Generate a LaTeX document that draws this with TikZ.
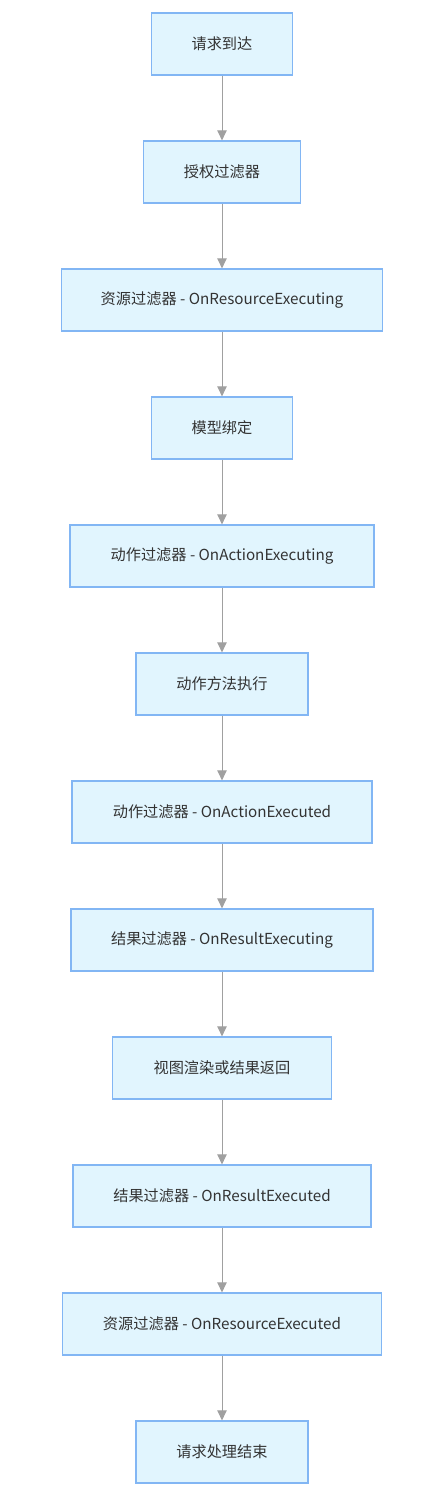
\documentclass[tikz,border=0pt]{standalone}
\usepackage{fontspec}
\setmainfont{Noto Sans CJK SC}
\usetikzlibrary{positioning,arrows.meta}
\definecolor{stagefill}{HTML}{E1F5FE}
\definecolor{stageline}{HTML}{82B6F4}
\definecolor{flowline}{HTML}{A0A0A0}
\definecolor{stagetext}{HTML}{333333}
\tikzstyle{stage} = [rectangle,
                    align = center,
                    draw=stageline,
                    fill=stagefill,
                    text=stagetext,
                    line width=0.9pt,
                    minimum height=46.5pt,
                    font=\fontsize{11.4pt}{13pt}\selectfont]

\begin{document}
\begin{tikzpicture}[node distance=48.6pt,
                      >={Triangle[length=7.5pt,width=7pt]},
                      flow/.style={->, draw=flowline, fill=flowline, line width=0.75pt}]
    \useasboundingbox (-166.5pt,33pt) rectangle (165pt,-1096.5pt);
    \node (0) [stage, minimum width=105.75pt] {请求到达};
    \node (1) [below =of 0] [stage, minimum width=117.75pt] {授权过滤器};
    \node (2) [below =of 1] [stage, minimum width=240.75pt] {资源过滤器 - OnResourceExecuting};
    \node (3) [below =of 2] [stage, minimum width=105.75pt] {模型绑定};
    \node (4) [below =of 3] [stage, minimum width=228pt] {动作过滤器 - OnActionExecuting};
    \node (5) [below =of 4] [stage, minimum width=129pt] {动作方法执行};
    \node (6) [below =of 5] [stage, minimum width=225pt] {动作过滤器 - OnActionExecuted};
    \node (7) [below =of 6] [stage, minimum width=226.5pt] {结果过滤器 - OnResultExecuting};
    \node (8) [below =of 7] [stage, minimum width=164.25pt] {视图渲染或结果返回};
    \node (9) [below =of 8] [stage, minimum width=223.5pt] {结果过滤器 - OnResultExecuted};
    \node (10) [below =of 9] [stage, minimum width=239.25pt] {资源过滤器 - OnResourceExecuted};
    \node (11) [below =of 10] [stage, minimum width=129pt] {请求处理结束};
    \foreach \a/\b in {0/1,1/2,2/3,3/4,4/5,5/6,6/7,7/8,8/9,9/10,10/11}
      \path[flow] (\a) edge (\b);
  \end{tikzpicture}
\end{document}
